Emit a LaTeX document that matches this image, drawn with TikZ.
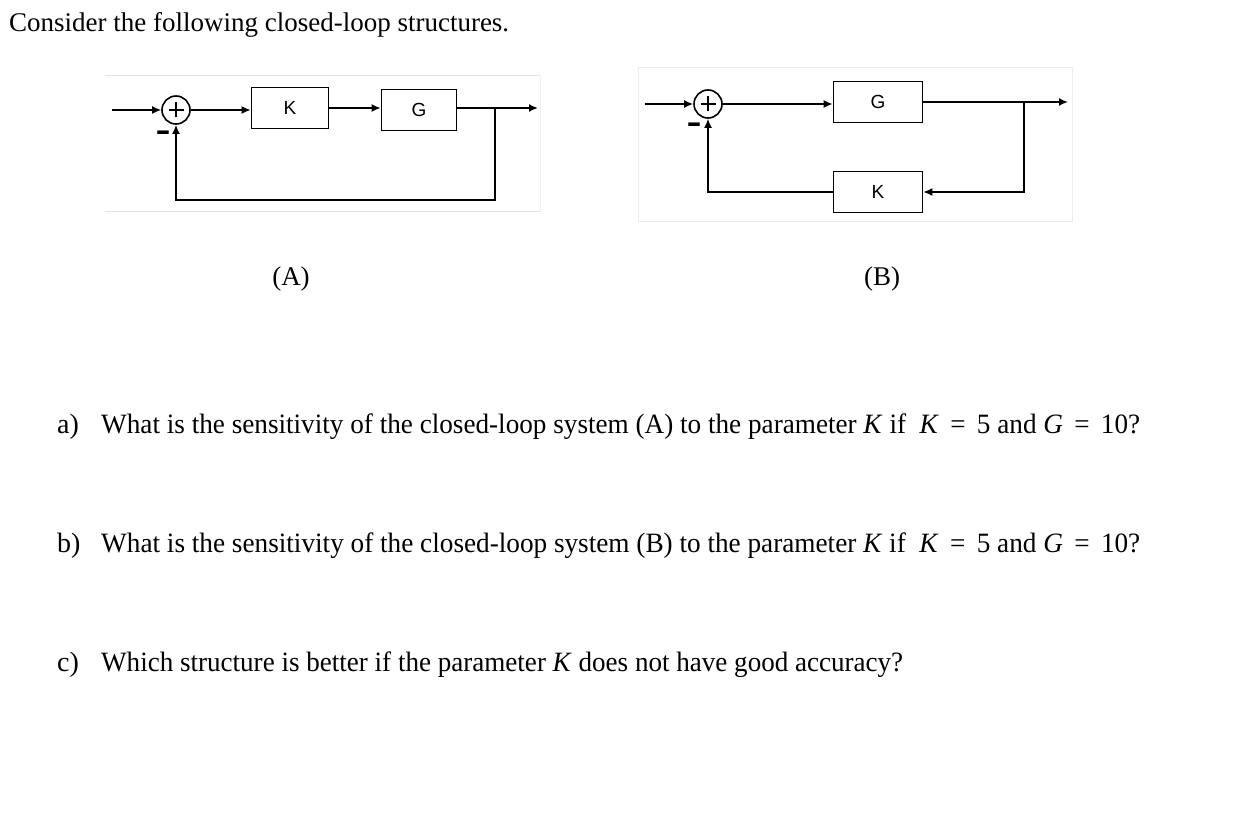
\documentclass[tikz,border=0pt]{standalone}
\usepackage{fontspec}
\setmainfont{Liberation Serif}
\setsansfont{Liberation Sans}
\usetikzlibrary{arrows.meta}

\tikzset{
    block/.style={draw=black, line width=1.6pt, minimum height=41pt, inner sep=0pt, font=\sffamily\fontsize{19}{19}\selectfont},
    sum/.style={shape=circle, draw=black, line width=1.6pt, minimum size=28pt, inner sep=0pt,
        path picture={\draw[line width=1.2pt]
            ([xshift=-7.5pt]path picture bounding box.center) -- ([xshift=7.5pt]path picture bounding box.center)
            ([yshift=-7.5pt]path picture bounding box.center) -- ([yshift=7.5pt]path picture bounding box.center);}},
    sig/.style={line width=1.7pt, -{Latex[length=9pt,width=8pt]}},
    frame/.style={draw=gray!22, line width=1pt},
    minus/.style={font=\sffamily\bfseries\fontsize{30}{30}\selectfont, inner sep=0pt},
    txt/.style={font=\fontsize{28}{32}\selectfont, inner sep=0pt, anchor=base west},
}

\begin{document}
\begin{tikzpicture}[x=1pt, y=-1pt]
    \useasboundingbox (0,0) rectangle (1244,834);

    % structure (A)
    \draw[frame] (105,76) -- (540,76);
    \draw[frame] (105,212) -- (540,212);
    \draw[draw=gray!12, line width=1pt] (540,76) -- (540,212);
    \node[sum] (sumA) at (176,110) {};
    \node[block, minimum width=77pt] (KA) at (290,108) {K};
    \node[block, minimum width=75pt] (GA) at (419,110) {G};
    \node[minus] (mA) at (163,136) {\scalebox{1.5}[1]{-}};
    \coordinate (inA) at (112,110);
    \coordinate (brA) at (495,108);
    \coordinate (outA) at (538,108);
    \coordinate (cA) at (495,200);

    \path[sig] (inA) edge (sumA.west);
    \draw[sig] (sumA.east) -- (sumA.east -| KA.west);
    \draw[sig] (KA.east) -- (KA.east -| GA.west);
    \draw[sig] (GA.east |- brA) -- (outA);
    \draw[sig] (brA) -- (cA) -| (sumA.south);

    % structure (B)
    \draw[draw=gray!15, line width=1pt] (638,68) rectangle (1072,222);
    \node[sum] (sumB) at (708,104) {};
    \node[block, minimum width=89pt] (GB) at (878,102) {G};
    \node[block, minimum width=89pt] (KB) at (878,192) {K};
    \node[minus] (mB) at (694,128) {\scalebox{1.5}[1]{-}};
    \coordinate (inB) at (645,104);
    \coordinate (brB) at (1024,102);
    \coordinate (outB) at (1068,102);

    \path[sig] (inB) edge (sumB.west);
    \draw[sig] (sumB.east) -- (sumB.east -| GB.west);
    \draw[sig] (GB.east) -- (outB);
    \draw[sig] (brB) |- (KB.east);
    \draw[sig] (KB.west) -| (sumB.south);

    % texts
    \node[txt, font=\fontsize{27}{32}\selectfont] (title) at (9,32) {\resizebox{500pt}{\height}{Consider the following closed-loop structures.}};
    \node[txt, anchor=base, font=\fontsize{27}{32}\selectfont] (labA) at (291,285) {(A)};
    \node[txt, anchor=base, font=\fontsize{27}{32}\selectfont] (labB) at (882,285) {(B)};

    \node[txt] (qa) at (57,433) {a)};
    \node[txt] (qatext) at (101,433) {\resizebox{1039pt}{\height}{What is the sensitivity of the closed-loop system (A) to the parameter \textit{K} if\enspace\textit{K} \,=\, 5 and \textit{G} \,=\, 10?}};
    \node[txt] (qb) at (57,552) {b)};
    \node[txt] (qbtext) at (101,552) {\resizebox{1039pt}{\height}{What is the sensitivity of the closed-loop system (B) to the parameter \textit{K} if\enspace\textit{K} \,=\, 5 and \textit{G} \,=\, 10?}};
    \node[txt] (qc) at (57,671) {c)};
    \node[txt] (qctext) at (101,671) {\resizebox{802pt}{\height}{Which structure is better if the parameter \textit{K} does not have good accuracy?}};
\end{tikzpicture}
\end{document}
